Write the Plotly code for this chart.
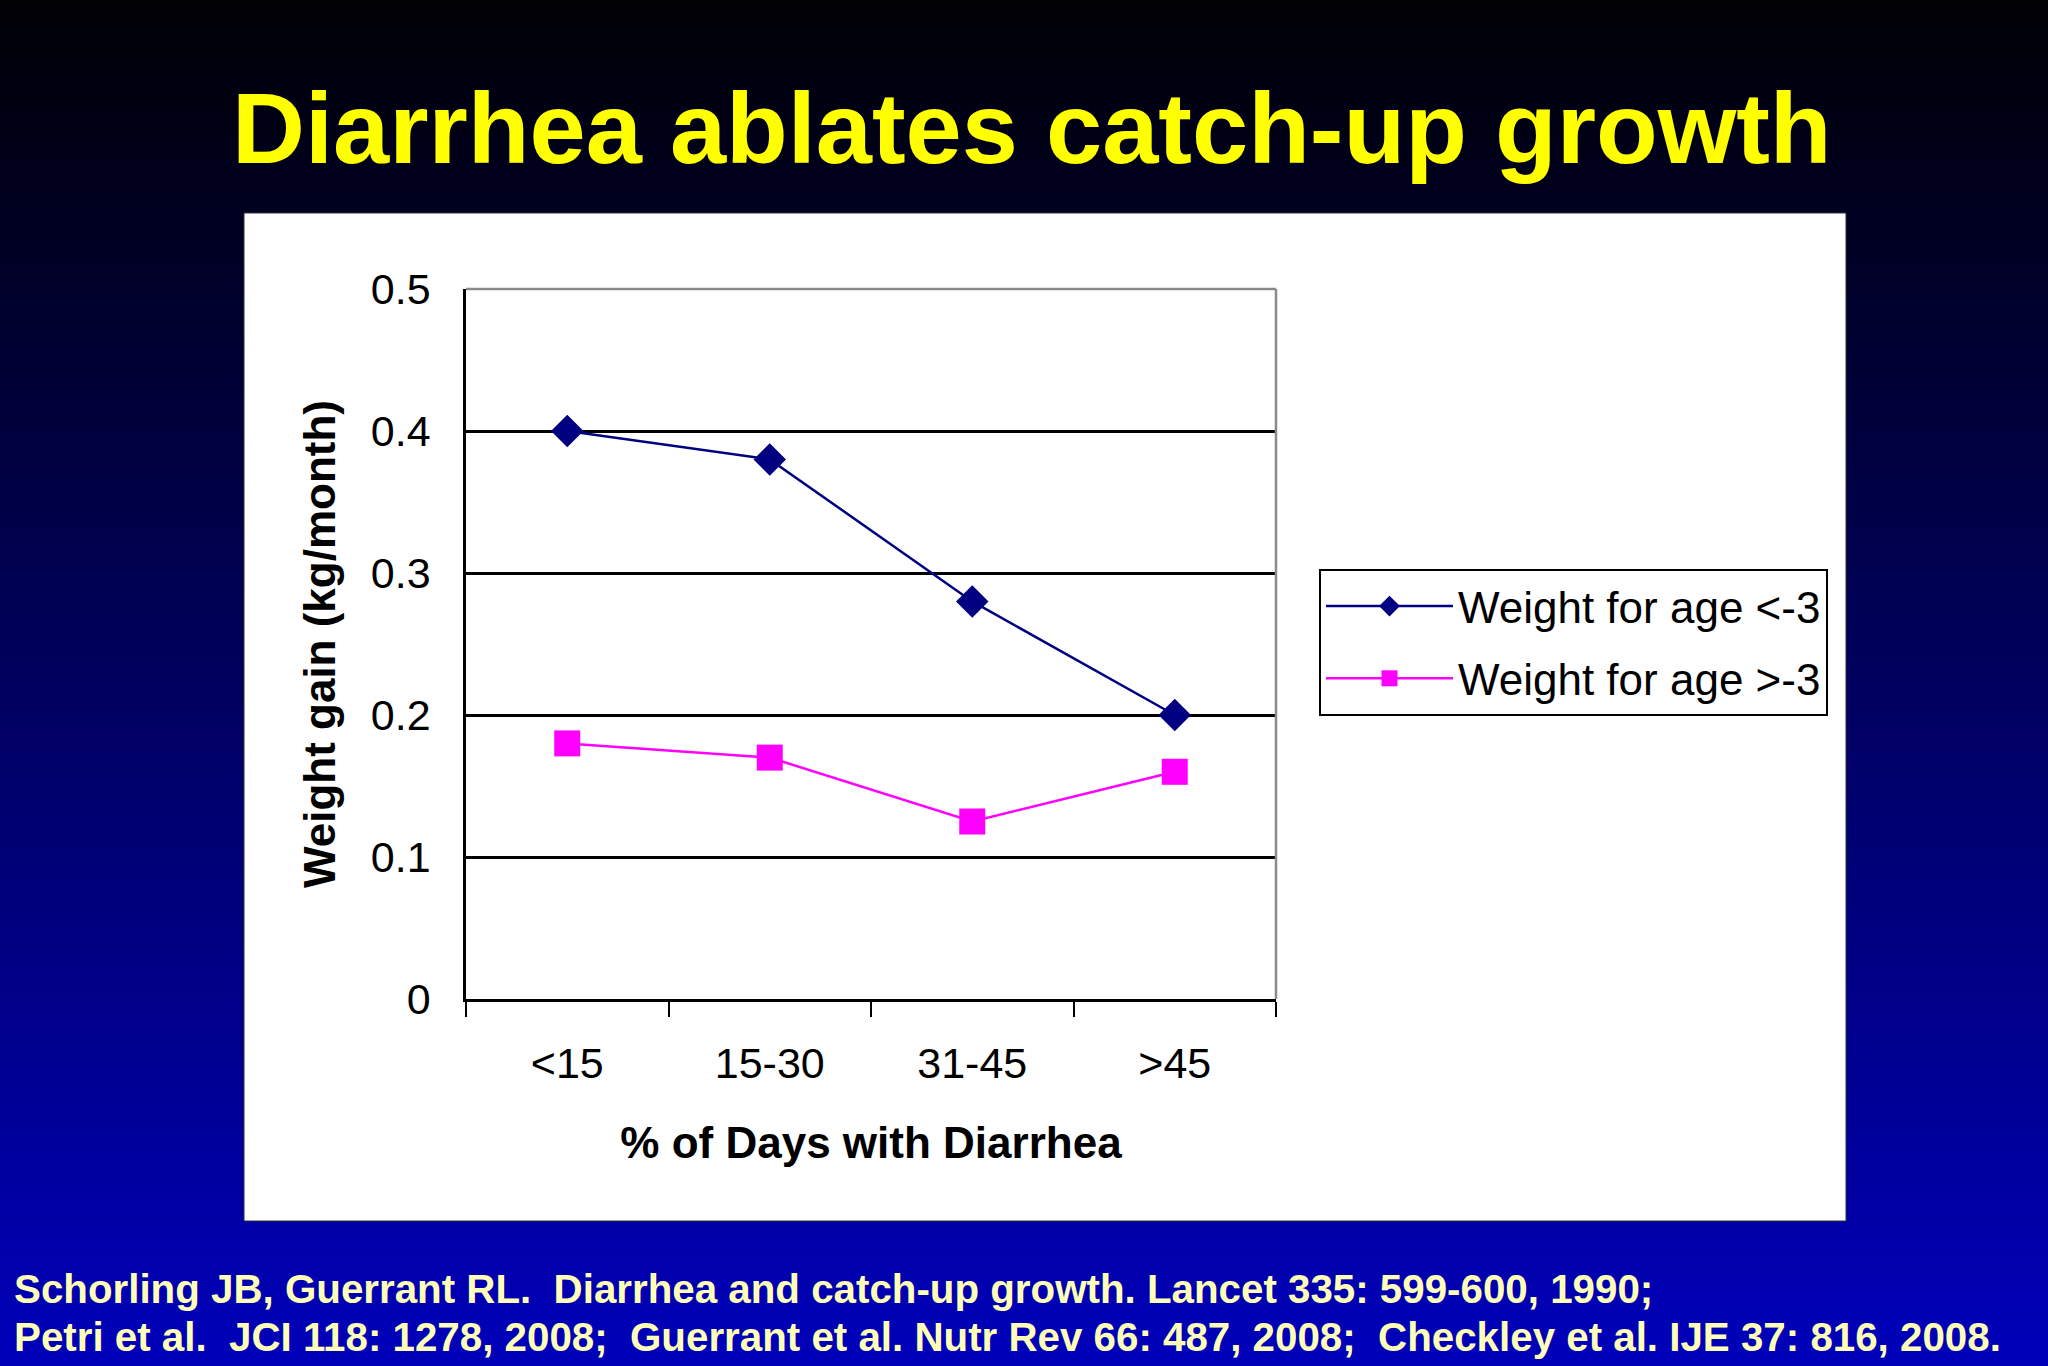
import plotly.graph_objects as go

# ---- data ----
categories = ["<15", "15-30", "31-45", ">45"]
wfa_below = [0.40, 0.38, 0.28, 0.20]      # Weight for age <-3
wfa_above = [0.18, 0.17, 0.125, 0.16]     # Weight for age >-3
series_names = ["Weight for age <-3", "Weight for age >-3"]
title_text = "Diarrhea ablates catch-up growth"
x_title = "% of Days with Diarrhea"
y_title = "Weight gain (kg/month)"
footer_lines = [
    "Schorling JB, Guerrant RL.  Diarrhea and catch-up growth. Lancet 335: 599-600, 1990;",
    "Petri et al.  JCI 118: 1278, 2008;  Guerrant et al. Nutr Rev 66: 487, 2008;  Checkley et al. IJE 37: 816, 2008.",
]

W, H = 2048, 1366
FONT = "Arial, Liberation Sans, sans-serif"

def px_x(x):
    return x / W

def px_y(y):
    return (H - y) / H

fig = go.Figure()
fig.add_trace(go.Scatter(
    x=categories, y=wfa_below, name=series_names[0], mode="lines+markers",
    line=dict(color="#000080", width=2.5),
    marker=dict(symbol="diamond", size=25, color="#000080"),
    legendgroup="a",
))
fig.add_trace(go.Scatter(
    x=categories, y=wfa_above, name=series_names[1], mode="lines+markers",
    line=dict(color="#FF00FF", width=2.5),
    marker=dict(symbol="square", size=26, color="#FF00FF"),
    legendgroup="b",
))

shapes = []
# background gradient (black -> blue)
n = 120
for i in range(n):
    t = (i + 0.5) / n
    b = int(round(4 + 182 * t))
    shapes.append(dict(type="rect", xref="paper", yref="paper",
                       x0=0, x1=1, y0=1 - (i + 1) / n - 0.001, y1=1 - i / n,
                       fillcolor=f"rgb(0,0,{b})", line=dict(width=0), layer="below"))
# white chart panel
shapes.append(dict(type="rect", xref="paper", yref="paper",
                   x0=px_x(244), x1=px_x(1846), y0=px_y(1221), y1=px_y(213),
                   fillcolor="white", line=dict(color="#303030", width=1), layer="below"))
# grey top/right border of plot area
shapes.append(dict(type="line", xref="x domain", yref="y domain", x0=0, x1=1, y0=1, y1=1,
                   line=dict(color="#8a8a8a", width=2.5), layer="above"))
shapes.append(dict(type="line", xref="x domain", yref="y domain", x0=1, x1=1, y0=0, y1=1,
                   line=dict(color="#8a8a8a", width=2.5), layer="above"))

annotations = [
    dict(text=f"<b>{title_text}</b>", xref="paper", yref="paper",
         x=px_x(1032), y=px_y(128), xanchor="center", yanchor="middle",
         showarrow=False, font=dict(family=FONT, size=101, color="#FFFF00")),
    dict(text=f"<b>{footer_lines[0]}</b>", xref="paper", yref="paper",
         x=px_x(12), y=px_y(1289), xanchor="left", yanchor="middle",
         showarrow=False, font=dict(family=FONT, size=40.3, color="#FFFFB8")),
    dict(text=f"<b>{footer_lines[1]}</b>", xref="paper", yref="paper",
         x=px_x(12), y=px_y(1337), xanchor="left", yanchor="middle",
         showarrow=False, font=dict(family=FONT, size=40.3, color="#FFFFB8")),
]

fig.update_layout(
    width=W, height=H,
    margin=dict(l=0, r=0, t=0, b=0, pad=0, autoexpand=False),
    paper_bgcolor="#000040",
    plot_bgcolor="white",
    font=dict(family=FONT, color="black"),
    shapes=shapes,
    annotations=annotations,
    showlegend=True,
    legend=dict(
        x=px_x(1319), y=px_y(569), xanchor="left", yanchor="top",
        bgcolor="white", bordercolor="black", borderwidth=2,
        font=dict(family=FONT, size=44, color="black"),
        traceorder="grouped", tracegroupgap=12, itemwidth=127,
    ),
    xaxis=dict(
        domain=[px_x(466), px_x(1276)],
        automargin=False,
        type="category", categoryorder="array", categoryarray=categories,
        range=[-0.5, 3.5],
        tickson="boundaries", ticks="outside", ticklen=15, tickwidth=2, tickcolor="black",
        showline=True, linecolor="black", linewidth=2.5,
        showgrid=False, zeroline=False,
        tickfont=dict(family=FONT, size=43, color="black"),
        ticklabelstandoff=25,
        title=dict(text=f"<b>{x_title}</b>", font=dict(family=FONT, size=44, color="black"),
                   standoff=41),
    ),
    yaxis=dict(
        domain=[px_y(999), px_y(289)],
        automargin=False,
        range=[0, 0.5], dtick=0.1, tick0=0,
        showgrid=True, gridcolor="black", gridwidth=2.5,
        showline=True, linecolor="black", linewidth=2.5,
        zeroline=False, ticks="",
        tickfont=dict(family=FONT, size=43, color="black"),
        ticklabelstandoff=24,
        title=dict(text=f"<b>{y_title}</b>", font=dict(family=FONT, size=44, color="black"),
                   standoff=22),
    ),
)

fig.write_html("out.html")
